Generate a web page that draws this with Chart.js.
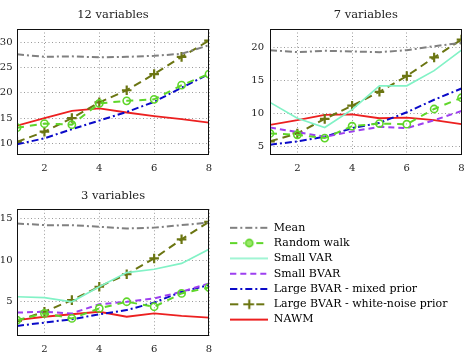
<!DOCTYPE html>
<html><head><meta charset="utf-8">
<script src="https://cdn.jsdelivr.net/npm/chart.js@4.4.1/dist/chart.umd.min.js"></script>
<style>
html,body{margin:0;padding:0;background:#fff;width:474px;height:352px;overflow:hidden}
canvas{position:absolute}
</style></head><body>
<canvas id="c12" width="226" height="178" style="left:0;top:0"></canvas>
<canvas id="c7" width="242" height="178" style="left:232px;top:0"></canvas>
<canvas id="c3" width="226" height="172" style="left:0;top:180px"></canvas>
<canvas id="leg" width="252" height="126" style="left:222px;top:218px"></canvas>
<script>
// ---- data ----
const horizons = [1, 2, 3, 4, 5, 6, 7, 8];
const xTickValues = [2, 4, 6, 8];
const seriesNames = ['Mean', 'Random walk', 'Small VAR', 'Small BVAR',
  'Large BVAR - mixed prior', 'Large BVAR - white-noise prior', 'NAWM'];
const panelTitles = ['12 variables', '7 variables', '3 variables'];

// 12 variables
const yTicks12 = [10, 15, 20, 25, 30];
const mean12  = [27.6, 27.1, 27.2, 27.0, 27.1, 27.3, 27.7, 29.4];
const rw12    = [13.1, 13.9, 13.7, 17.9, 18.4, 18.7, 21.5, 23.7];
const mixed12 = [9.8, 11.0, 12.8, 14.5, 16.2, 18.2, 21.0, 23.7];
const wn12    = [10.3, 12.3, 15.0, 18.1, 20.5, 23.7, 27.1, 30.3];
const nawm12  = [13.5, 15.0, 16.4, 16.9, 16.1, 15.4, 14.8, 14.1];

// 7 variables
const yTicks7 = [5, 10, 15, 20];
const mean7  = [19.6, 19.3, 19.5, 19.4, 19.3, 19.6, 20.2, 20.7];
const rw7    = [7.0, 6.8, 6.3, 8.1, 8.5, 8.4, 10.7, 12.4];
const svar7  = [11.7, 9.3, 7.9, 10.6, 14.2, 14.2, 16.5, 19.6];
const sbvar7 = [7.9, 7.2, 6.5, 7.3, 8.0, 7.8, 9.0, 10.4];
const mixed7 = [5.3, 5.8, 6.5, 7.8, 8.6, 10.2, 12.1, 13.8];
const wn7    = [5.8, 7.0, 9.2, 11.2, 13.3, 15.7, 18.5, 21.2];
const nawm7  = [8.3, 9.0, 9.8, 9.9, 9.3, 9.4, 9.0, 8.4];

// 3 variables
const yTicks3 = [5, 10, 15];
const mean3  = [14.4, 14.2, 14.2, 14.0, 13.8, 13.9, 14.2, 14.5];
const rw3    = [2.8, 3.6, 3.0, 4.2, 5.0, 4.4, 6.0, 6.7];
const svar3  = [5.6, 5.5, 5.0, 6.8, 8.5, 8.9, 9.6, 11.3];
const sbvar3 = [3.7, 3.8, 3.6, 4.7, 5.0, 5.4, 6.2, 7.2];
const mixed3 = [2.1, 2.5, 2.9, 3.5, 4.0, 4.9, 6.2, 7.0];
const wn3    = [2.7, 3.8, 5.2, 6.8, 8.3, 10.2, 12.5, 14.6];
const nawm3  = [2.8, 3.2, 3.5, 3.8, 3.2, 3.6, 3.3, 3.1];

// ---- styles ----
const styles = {
  'Mean': {color: '#808080', width: 2, dash: [7, 3, 2, 3]},
  'Random walk': {color: '#5fd62a', width: 2, dash: [7, 6], point: 'circle', radius: 3.6, bw: 1.6},
  'Small VAR': {color: '#82f2c6', width: 1.7, dash: []},
  'Small BVAR': {color: '#9d3ff0', width: 2, dash: [6, 4]},
  'Large BVAR - mixed prior': {color: '#0a0ac8', width: 2, dash: [7, 3, 2, 3]},
  'Large BVAR - white-noise prior': {color: '#6b7512', width: 2, dash: [8, 5], point: 'cross', radius: 4.8, bw: 2.2},
  'NAWM': {color: '#ec2020', width: 1.8, dash: []}
};

Chart.defaults.font.family = "'DejaVu Serif', serif";
Chart.defaults.color = '#222';

function ds(name, values) {
  const s = styles[name];
  return {
    label: name,
    data: horizons.map((h, i) => ({x: h, y: values[i]})),
    borderColor: s.color, borderWidth: s.width, borderDash: s.dash,
    backgroundColor: s.color, tension: 0, fill: false,
    pointStyle: s.point || 'circle', pointRadius: s.point ? s.radius : 0,
    pointBorderWidth: s.bw || 0, pointBorderColor: s.color,
    pointBackgroundColor: 'rgba(0,0,0,0)', pointHoverRadius: 0
  };
}

const framePlugin = {
  id: 'frame',
  afterDatasetsDraw(chart) {
    const a = chart.chartArea, c = chart.ctx;
    c.save();
    c.strokeStyle = '#111'; c.lineWidth = 1; c.setLineDash([]);
    c.strokeRect(Math.round(a.left) + 0.5, Math.round(a.top) + 0.5,
      Math.round(a.right - a.left) - 1, Math.round(a.bottom - a.top) - 1);
    c.restore();
  }
};

function panel(id, title, datasets, yTicks, yMin, yMax, g) {
  return new Chart(document.getElementById(id), {
    type: 'line',
    data: {datasets},
    plugins: [framePlugin],
    options: {
      responsive: false, animation: false, devicePixelRatio: 1,
      layout: {padding: {left: 0, right: g.right, top: 0, bottom: 0}},
      plugins: {
        legend: {display: false}, tooltip: {enabled: false},
        title: {display: true, fullSize: false, text: title, font: {size: 11.5, weight: 'normal'},
          color: '#222', padding: {top: g.tTop, bottom: g.tBottom}}
      },
      scales: {
        x: {
          type: 'linear', min: 1, max: 8,
          afterBuildTicks: s => { s.ticks = xTickValues.map(v => ({value: v})); },
          afterFit: s => { s.height = g.xh; },
          grid: {color: '#9a9a9a', lineWidth: 1, drawTicks: false},
          border: {display: false, dash: [1, 2.5]},
          ticks: {padding: 7, font: {size: 10}, color: '#222', maxRotation: 0}
        },
        y: {
          min: yMin, max: yMax,
          afterBuildTicks: s => { s.ticks = yTicks.map(v => ({value: v})); },
          afterFit: s => { s.width = g.left; },
          grid: {color: '#9a9a9a', lineWidth: 1, drawTicks: false},
          border: {display: false, dash: [1, 2.5]},
          ticks: {padding: g.yPad, font: {size: 10}, color: '#222'}
        }
      }
    }
  });
}

panel('c12', panelTitles[0], [
  ds('Mean', mean12), ds('Random walk', rw12),
  ds('Large BVAR - mixed prior', mixed12), ds('Large BVAR - white-noise prior', wn12),
  ds('NAWM', nawm12)
], yTicks12, 7.7, 32.6, {left: 17, right: 17, tTop: 8.1, tBottom: 7.1, xh: 23, yPad: 4.5});

panel('c7', panelTitles[1], [
  ds('Mean', mean7), ds('Random walk', rw7), ds('Small VAR', svar7), ds('Small BVAR', sbvar7),
  ds('Large BVAR - mixed prior', mixed7), ds('Large BVAR - white-noise prior', wn7),
  ds('NAWM', nawm7)
], yTicks7, 3.74, 22.8, {left: 38, right: 12.5, tTop: 8.1, tBottom: 7.1, xh: 23, yPad: 6});

panel('c3', panelTitles[2], [
  ds('Mean', mean3), ds('Random walk', rw3), ds('Small VAR', svar3), ds('Small BVAR', sbvar3),
  ds('Large BVAR - mixed prior', mixed3), ds('Large BVAR - white-noise prior', wn3),
  ds('NAWM', nawm3)
], yTicks3, 0.89, 16.1, {left: 17, right: 17, tTop: 8.8, tBottom: 6.7, xh: 16, yPad: 4.5});

// ---- legend ----
function sampleImage(s) {
  const c = document.createElement('canvas');
  c.width = 38; c.height = 12;
  const g = c.getContext('2d');
  g.strokeStyle = s.color; g.lineWidth = s.width; g.setLineDash(s.dash || []);
  g.beginPath(); g.moveTo(0, 6); g.lineTo(38, 6); g.stroke();
  g.setLineDash([]);
  if (s.point) {
    g.fillStyle = s.point === 'circle' ? '#9be86a' : s.color;
    g.strokeStyle = s.color; g.lineWidth = s.bw;
    if (s.point === 'circle') { g.clearRect(14, 0, 10, 12); }
    Chart.helpers.drawPoint(g, {pointStyle: s.point, radius: s.radius, borderWidth: s.bw, rotation: 0}, 19, 6);
  }
  return c;
}

new Chart(document.getElementById('leg'), {
  type: 'line',
  data: {datasets: seriesNames.map(n => ({label: n, data: []}))},
  options: {
    responsive: false, animation: false, devicePixelRatio: 1,
    layout: {padding: {left: 4, top: 0}},
    scales: {x: {display: false}, y: {display: false}},
    plugins: {
      tooltip: {enabled: false},
      legend: {
        position: 'left', align: 'start', maxWidth: 240,
        labels: {
          usePointStyle: true, pointStyleWidth: 38, padding: 4.3,
          font: {size: 11}, color: '#222',
          generateLabels: chart => seriesNames.map((n, i) => ({
            text: n, pointStyle: sampleImage(styles[n]), datasetIndex: i,
            fillStyle: styles[n].color, strokeStyle: styles[n].color, lineWidth: 0, hidden: false
          }))
        }
      }
    }
  }
});
</script>
</body></html>
